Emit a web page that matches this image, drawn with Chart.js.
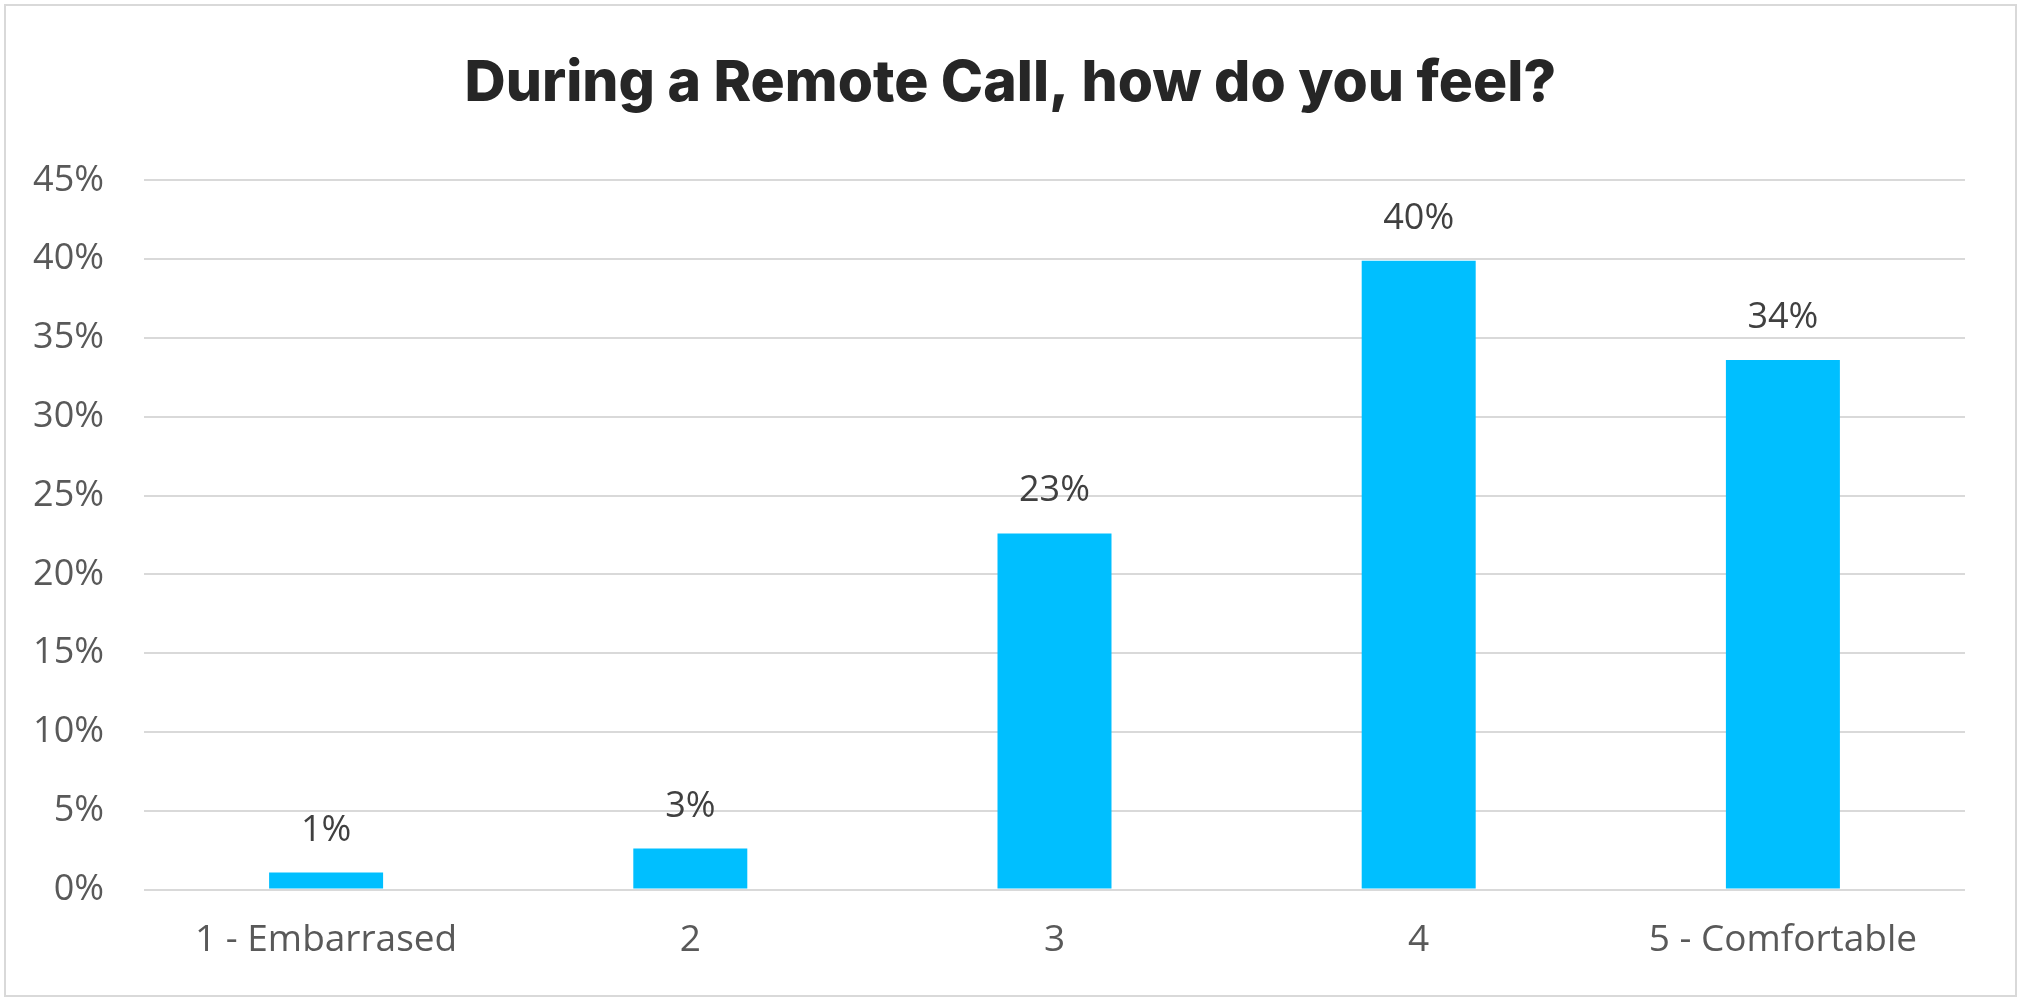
<!DOCTYPE html>
<html>
<head>
<meta charset="utf-8">
<script src="https://cdn.jsdelivr.net/npm/chart.js@4.4.0/dist/chart.umd.min.js"></script>
<style>
  html, body { margin: 0; padding: 0; background: #ffffff; }
  #wrap { position: relative; width: 2021px; height: 1003px; }
  #frame { position: absolute; left: 4px; top: 4px; width: 2009px; height: 989px; border: 2px solid #d9d9d9; pointer-events: none; }
  canvas { display: block; }
</style>
</head>
<body>
<div id="wrap">
  <canvas id="c" width="2021" height="1003"></canvas>
  <div id="frame"></div>
</div>
<script>
const titleText = 'During a Remote Call, how do you feel?';
const categories = ['1 - Embarrased', '2', '3', '4', '5 - Comfortable'];
const values = [1.08, 2.6, 22.6, 39.9, 33.6];
const yTicks = [0, 5, 10, 15, 20, 25, 30, 35, 40, 45];

const barLabels = {
  id: 'barLabels',
  afterDatasetsDraw(chart) {
    const ctx = chart.ctx;
    const meta = chart.getDatasetMeta(0);
    ctx.save();
    ctx.font = '36px "Open Sans"';
    ctx.fillStyle = '#404040';
    ctx.textAlign = 'center';
    ctx.textBaseline = 'alphabetic';
    meta.data.forEach((bar, i) => {
      ctx.fillText(Math.round(values[i]) + '%', bar.x, bar.y - 32);
    });
    ctx.restore();
  }
};

new Chart(document.getElementById('c'), {
  type: 'bar',
  data: {
    labels: categories,
    datasets: [{
      data: values,
      backgroundColor: '#00bfff',
      barPercentage: 0.313,
      categoryPercentage: 1.0
    }]
  },
  options: {
    responsive: false,
    animation: false,
    devicePixelRatio: 1,
    layout: { padding: { left: 0, right: 0, top: 0, bottom: 11 } },
    plugins: {
      legend: { display: false },
      tooltip: { enabled: false },
      title: {
        display: true,
        text: titleText,
        color: '#262626',
        font: { family: 'Inter', size: 57, weight: '800' },
        padding: { top: 50, bottom: 62 }
      }
    },
    scales: {
      x: {
        grid: { display: false, drawTicks: false },
        border: { display: false },
        ticks: {
          color: '#595959',
          font: { family: 'Open Sans', size: 37 },
          padding: 29,
          maxRotation: 0
        }
      },
      y: {
        min: 0,
        max: 45,
        afterBuildTicks(scale) { scale.ticks = yTicks.map(v => ({ value: v })); },
        afterFit(scale) { scale.width = 144; },
        grid: { color: '#d9d9d9', lineWidth: 2, drawTicks: false },
        border: { display: false },
        ticks: {
          color: '#595959',
          font: { family: 'Open Sans', size: 36 },
          padding: 40,
          callback: v => v + '%'
        }
      },
      ySpacer: {
        type: 'linear',
        position: 'right',
        min: 0,
        max: 45,
        afterFit(scale) { scale.width = 56; },
        grid: { display: false, drawTicks: false },
        border: { display: false },
        ticks: { display: false }
      }
    }
  },
  plugins: [barLabels]
});
</script>
</body>
</html>
